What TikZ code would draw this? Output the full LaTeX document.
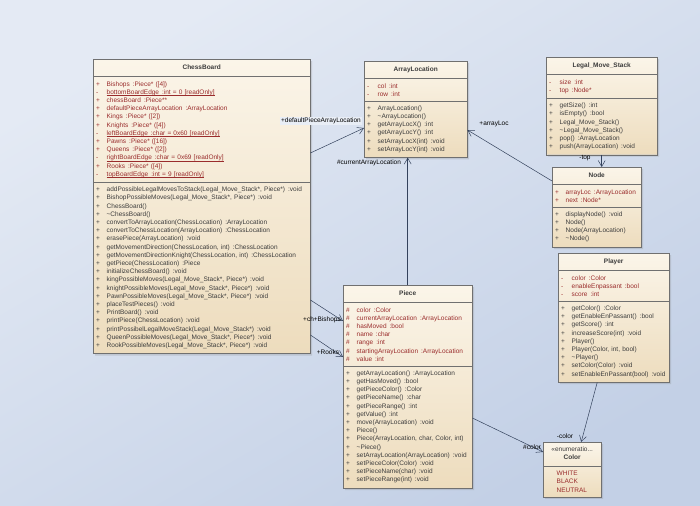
\documentclass[tikz,border=0pt]{standalone}
\usepackage{fontspec}
\setmainfont{Liberation Sans}
\usetikzlibrary{shapes.multipart,shadows,arrows.meta}
\setlength{\parindent}{0pt}

\definecolor{bgtop}{HTML}{E4EAF4}
\definecolor{bgbottom}{HTML}{C3D0E6}
\definecolor{boxtop}{HTML}{FBF5E9}
\definecolor{boxbottom}{HTML}{EDDCBD}
\definecolor{boxline}{HTML}{707070}
\definecolor{attrtext}{HTML}{9A2C2C}
\definecolor{optext}{HTML}{3C3C3C}
\definecolor{wire}{HTML}{34425C}

\newcommand{\umlfont}{\fontsize{6.5}{8.2}\selectfont}
\newcommand{\cln}{\hspace{3pt}:}
\newcommand{\titlestrut}{\rule[-2pt]{0pt}{8pt}}
\newcommand{\centred}[1]{\hfill#1\hfill\mbox{}}
\newcommand{\classtitle}[1]{\centred{\titlestrut\textbf{#1}}}
\newsavebox{\staticbox}
\newcommand{\staticline}[1]{\sbox{\staticbox}{#1}\rlap{\rule[-1.3pt]{\wd\staticbox}{0.4pt}}\usebox{\staticbox}}
\newcommand{\attr}[2]{\mbox{\color{attrtext}\makebox[10.5pt][l]{#1}#2}}
\newcommand{\sattr}[2]{\mbox{\color{attrtext}\makebox[10.5pt][l]{#1}\staticline{#2}}}
\newcommand{\op}[2]{\mbox{\makebox[10.5pt][l]{#1}#2}}

\tikzset{
    classbox/.style = {rectangle split, rectangle split parts=3, draw=boxline, thin,
        top color=boxtop, bottom color=boxbottom, text=optext,
        drop shadow={opacity=0.25, shadow xshift=2pt, shadow yshift=-2pt},
        inner xsep=3pt, inner ysep=4.5pt, font=\umlfont, anchor=north west},
    enumbox/.style = {classbox, rectangle split parts=2},
    assoc/.style = {draw=wire, line width=0.5pt, -{Straight Barb[length=6pt, width=7pt]}},
    role/.style = {font=\umlfont, text=black, inner sep=1pt},
}

\begin{document}
\begin{tikzpicture}[x=1pt, y=-1pt]
\shade[top color=bgtop, bottom color=bgbottom, shading angle=30] (0,0) rectangle (700,505);

% classes
\node[classbox, text width=211pt] (board) at (93,59) {\classtitle{ChessBoard}
    \nodepart{two}
    \attr{+}{Bishops\cln Piece* ([4])}\\
    \sattr{-}{bottomBoardEdge\cln int = 0 [readOnly]}\\
    \attr{+}{chessBoard\cln Piece**}\\
    \attr{+}{defaultPieceArrayLocation\cln ArrayLocation}\\
    \attr{+}{Kings\cln Piece* ([2])}\\
    \attr{+}{Knights\cln Piece* ([4])}\\
    \sattr{-}{leftBoardEdge\cln char = 0x60 [readOnly]}\\
    \attr{+}{Pawns\cln Piece* ([16])}\\
    \attr{+}{Queens\cln Piece* ([2])}\\
    \sattr{-}{rightBoardEdge\cln char = 0x69 [readOnly]}\\
    \attr{+}{Rooks\cln Piece* ([4])}\\
    \sattr{-}{topBoardEdge\cln int = 9 [readOnly]}
    \nodepart{three}
    \op{+}{addPossibleLegalMovesToStack(Legal\_Move\_Stack*, Piece*)\cln void}\\
    \op{+}{BishopPossibleMoves(Legal\_Move\_Stack*, Piece*)\cln void}\\
    \op{+}{ChessBoard()}\\
    \op{+}{\textasciitilde ChessBoard()}\\
    \op{+}{convertToArrayLocation(ChessLocation)\cln ArrayLocation}\\
    \op{+}{convertToChessLocation(ArrayLocation)\cln ChessLocation}\\
    \op{+}{erasePiece(ArrayLocation)\cln void}\\
    \op{+}{getMovementDirection(ChessLocation, int)\cln ChessLocation}\\
    \op{+}{getMovementDirectionKnight(ChessLocation, int)\cln ChessLocation}\\
    \op{+}{getPiece(ChessLocation)\cln Piece}\\
    \op{+}{initializeChessBoard()\cln void}\\
    \op{+}{kingPossibleMoves(Legal\_Move\_Stack*, Piece*)\cln void}\\
    \op{+}{knightPossibleMoves(Legal\_Move\_Stack*, Piece*)\cln void}\\
    \op{+}{PawnPossibleMoves(Legal\_Move\_Stack*, Piece*)\cln void}\\
    \op{+}{placeTestPieces()\cln void}\\
    \op{+}{PrintBoard()\cln void}\\
    \op{+}{printPiece(ChessLocation)\cln void}\\
    \op{+}{printPossibelLegalMoveStack(Legal\_Move\_Stack*)\cln void}\\
    \op{+}{QueenPossibleMoves(Legal\_Move\_Stack*, Piece*)\cln void}\\
    \op{+}{RookPossibleMoves(Legal\_Move\_Stack*, Piece*)\cln void}};

\node[classbox, text width=97pt] (arrayloc) at (364,61) {\classtitle{ArrayLocation}
    \nodepart{two}
    \attr{-}{col\cln int}\\
    \attr{-}{row\cln int}
    \nodepart{three}
    \op{+}{ArrayLocation()}\\
    \op{+}{\textasciitilde ArrayLocation()}\\
    \op{+}{getArrayLocX()\cln int}\\
    \op{+}{getArrayLocY()\cln int}\\
    \op{+}{setArrayLocX(int)\cln void}\\
    \op{+}{setArrayLocY(int)\cln void}};

\node[classbox, text width=105pt] (stack) at (546,57) {\classtitle{Legal\_Move\_Stack}
    \nodepart{two}
    \attr{-}{size\cln int}\\
    \attr{-}{top\cln Node*}
    \nodepart{three}
    \op{+}{getSize()\cln int}\\
    \op{+}{isEmpty()\cln bool}\\
    \op{+}{Legal\_Move\_Stack()}\\
    \op{+}{\textasciitilde Legal\_Move\_Stack()}\\
    \op{+}{pop()\cln ArrayLocation}\\
    \op{+}{push(ArrayLocation)\cln void}};

\node[classbox, text width=83pt] (listnode) at (552,167) {\classtitle{Node}
    \nodepart{two}
    \attr{+}{arrayLoc\cln ArrayLocation}\\
    \attr{+}{next\cln Node*}
    \nodepart{three}
    \op{+}{displayNode()\cln void}\\
    \op{+}{Node()}\\
    \op{+}{Node(ArrayLocation)}\\
    \op{+}{\textasciitilde Node()}};

\node[classbox, text width=105pt] (player) at (558,253) {\classtitle{Player}
    \nodepart{two}
    \attr{-}{color\cln Color}\\
    \attr{-}{enableEnpassant\cln bool}\\
    \attr{-}{score\cln int}
    \nodepart{three}
    \op{+}{getColor()\cln Color}\\
    \op{+}{getEnableEnPassant()\cln bool}\\
    \op{+}{getScore()\cln int}\\
    \op{+}{increaseScore(int)\cln void}\\
    \op{+}{Player()}\\
    \op{+}{Player(Color, int, bool)}\\
    \op{+}{\textasciitilde Player()}\\
    \op{+}{setColor(Color)\cln void}\\
    \op{+}{setEnableEnPassant(bool)\cln void}};

\node[classbox, text width=123pt] (piece) at (343,285) {\classtitle{Piece}
    \nodepart{two}
    \attr{\#}{color\cln Color}\\
    \attr{\#}{currentArrayLocation\cln ArrayLocation}\\
    \attr{\#}{hasMoved\cln bool}\\
    \attr{\#}{name\cln char}\\
    \attr{\#}{range\cln int}\\
    \attr{\#}{startingArrayLocation\cln ArrayLocation}\\
    \attr{\#}{value\cln int}
    \nodepart{three}
    \op{+}{getArrayLocation()\cln ArrayLocation}\\
    \op{+}{getHasMoved()\cln bool}\\
    \op{+}{getPieceColor()\cln Color}\\
    \op{+}{getPieceName()\cln char}\\
    \op{+}{getPieceRange()\cln int}\\
    \op{+}{getValue()\cln int}\\
    \op{+}{move(ArrayLocation)\cln void}\\
    \op{+}{Piece()}\\
    \op{+}{Piece(ArrayLocation, char, Color, int)}\\
    \op{+}{\textasciitilde Piece()}\\
    \op{+}{setArrayLocation(ArrayLocation)\cln void}\\
    \op{+}{setPieceColor(Color)\cln void}\\
    \op{+}{setPieceName(char)\cln void}\\
    \op{+}{setPieceRange(int)\cln void}};

\node[enumbox, text width=52pt] (color) at (543,442) {\centred{«enumeratio...}\\\classtitle{Color}
    \nodepart{two}
    \attr{}{WHITE}\\
    \attr{}{BLACK}\\
    \attr{}{NEUTRAL}};

% associations
\draw[assoc] ([yshift=-94pt]board.north east) -- ([yshift=-67pt]arrayloc.north west);
\draw[assoc] (piece.north) -- (piece.north |- arrayloc.south);
\draw[assoc] ([yshift=-14pt]listnode.north west) -- ([yshift=-69pt]arrayloc.north east);
\draw[assoc] (stack.south) -- (stack.south |- listnode.north);
\draw[assoc] ([yshift=-241pt]board.north east) -- ([yshift=-36pt]piece.north west);
\draw[assoc] ([yshift=-276pt]board.north east) -- ([yshift=-72pt]piece.north west);
\draw[assoc] ([yshift=-133pt]piece.north east) -- ([yshift=-10pt]color.north west);
\draw[assoc] ([xshift=-16.5pt]player.south) -- ([xshift=9pt]color.north);

% role names
\node[role, fill=bgtop!80!white] (defaultrole) at (321,121) {+defaultPieceArrayLocation};
\node[role] (currentrole) at (369,163) {\#currentArrayLocation};
\node[role] (arraylocrole) at (494,124) {+arrayLoc};
\node[role] (toprole) at (585,158) {-top};
\node[role] (bishopsrole) at (322,320) {+ch+Bishops};
\node[role] (rooksrole) at (328,352) {+Rooks};
\node[role] (colorrole) at (532,447) {\#color};
\node[role] (playercolorrole) at (565,436) {-color};
\end{tikzpicture}
\end{document}
